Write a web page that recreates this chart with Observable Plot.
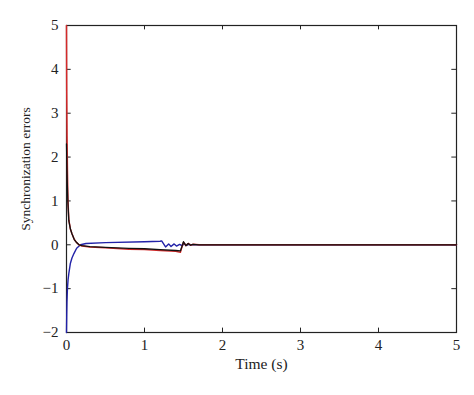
<!DOCTYPE html>
<html>
<head>
<meta charset="utf-8">
<script src="https://cdn.jsdelivr.net/npm/d3@7"></script>
<script src="https://cdn.jsdelivr.net/npm/@observablehq/plot@0.6"></script>
<style>
  html, body { margin: 0; padding: 0; background: #fff; }
  svg text { font-family: "Liberation Serif", serif !important; }
</style>
</head>
<body>
<div id="chart"></div>
<script>
const xTicks = [0, 1, 2, 3, 4, 5];
const yTicks = [-2, -1, 0, 1, 2, 3, 4, 5];

const timeRed = [0, 0.003, 0.007, 0.012, 0.018, 0.03, 0.05, 0.07, 0.1, 0.13, 0.16, 0.2, 0.3, 0.5, 0.8, 1.0, 1.2, 1.4, 1.46, 1.48, 1.5, 1.53, 1.56, 1.59, 1.62, 1.7, 5];
const red = [5, 3.5, 2.5, 1.7, 1.05, 0.56, 0.36, 0.25, 0.12, 0.05, 0.0, -0.03, -0.05, -0.07, -0.1, -0.11, -0.13, -0.15, -0.17, -0.05, 0.06, -0.02, 0.03, -0.01, 0.01, 0, 0];

const timeBlack = [0, 0.005, 0.01, 0.018, 0.03, 0.05, 0.07, 0.1, 0.13, 0.16, 0.2, 0.3, 0.5, 0.8, 1.0, 1.2, 1.4, 1.46, 1.48, 1.5, 1.53, 1.56, 1.59, 1.62, 1.7, 5];
const black = [2.3, 1.8, 1.4, 0.95, 0.55, 0.36, 0.25, 0.12, 0.05, 0.0, -0.02, -0.04, -0.06, -0.08, -0.09, -0.11, -0.13, -0.14, -0.04, 0.07, -0.02, 0.03, -0.01, 0.01, 0, 0];

const timeBlue = [0, 0.003, 0.006, 0.012, 0.02, 0.03, 0.05, 0.07, 0.095, 0.13, 0.18, 0.25, 0.5, 1.0, 1.2, 1.22, 1.27, 1.31, 1.34, 1.38, 1.41, 1.45, 1.48, 1.51, 1.54, 1.57, 1.6, 1.65, 5];
const blue = [-2, -1.6, -1.3, -1.0, -0.8, -0.65, -0.42, -0.3, -0.2, -0.08, 0.0, 0.03, 0.05, 0.07, 0.08, 0.09, -0.05, 0.02, -0.04, 0.02, -0.03, 0.01, -0.02, 0.02, -0.01, 0.01, 0, 0, 0];

const rows = (ts, vs) => ts.map((t, i) => ({t, v: vs[i]}));
const serif = "Liberation Serif";

const chart = Plot.plot({
  width: 474,
  height: 395,
  marginLeft: 66,
  marginRight: 18,
  marginTop: 25,
  marginBottom: 63,
  style: {fontFamily: serif, fontSize: "15px", background: "#fff", color: "#222"},
  x: {domain: [0, 5], ticks: xTicks, tickFormat: d => String(d)},
  y: {domain: [-2, 5], ticks: yTicks, tickFormat: d => d < 0 ? "\u2212" + Math.abs(d) : String(d)},
  marks: [
    Plot.frame({stroke: "#222", strokeWidth: 1.2}),
    Plot.axisX(xTicks, {tickSize: 0, tickPadding: 7, label: null, fontSize: 15, fontFamily: serif}),
    Plot.axisY(yTicks, {tickSize: 0, tickPadding: 8, label: null, fontSize: 15, fontFamily: serif}),
    Plot.ruleX(xTicks, {y1: -2, y2: -1.9, stroke: "#222"}),
    Plot.ruleX(xTicks, {y1: 5, y2: 4.9, stroke: "#222"}),
    Plot.ruleY(yTicks, {x1: 0, x2: 0.06, stroke: "#222"}),
    Plot.ruleY(yTicks, {x1: 5, x2: 4.94, stroke: "#222"}),
    Plot.line(rows(timeBlue, blue), {x: "t", y: "v", stroke: "#2222a8", strokeWidth: 1.4}),
    Plot.line(rows(timeRed, red), {x: "t", y: "v", stroke: "#d42a2a", strokeWidth: 1.5}),
    Plot.line(rows(timeBlack, black), {x: "t", y: "v", stroke: "#111", strokeWidth: 1.3}),
    Plot.text(["Time (s)"], {frameAnchor: "bottom", dy: 36, fontSize: 15.5, fontFamily: serif, fill: "#222"}),
    Plot.text(["Synchronization errors"], {frameAnchor: "left", textAnchor: "middle", dx: -41, dy: -10, rotate: -90, fontSize: 13.5, fontFamily: serif, fill: "#222"})
  ]
});
document.getElementById("chart").appendChild(chart);
</script>
</body>
</html>
